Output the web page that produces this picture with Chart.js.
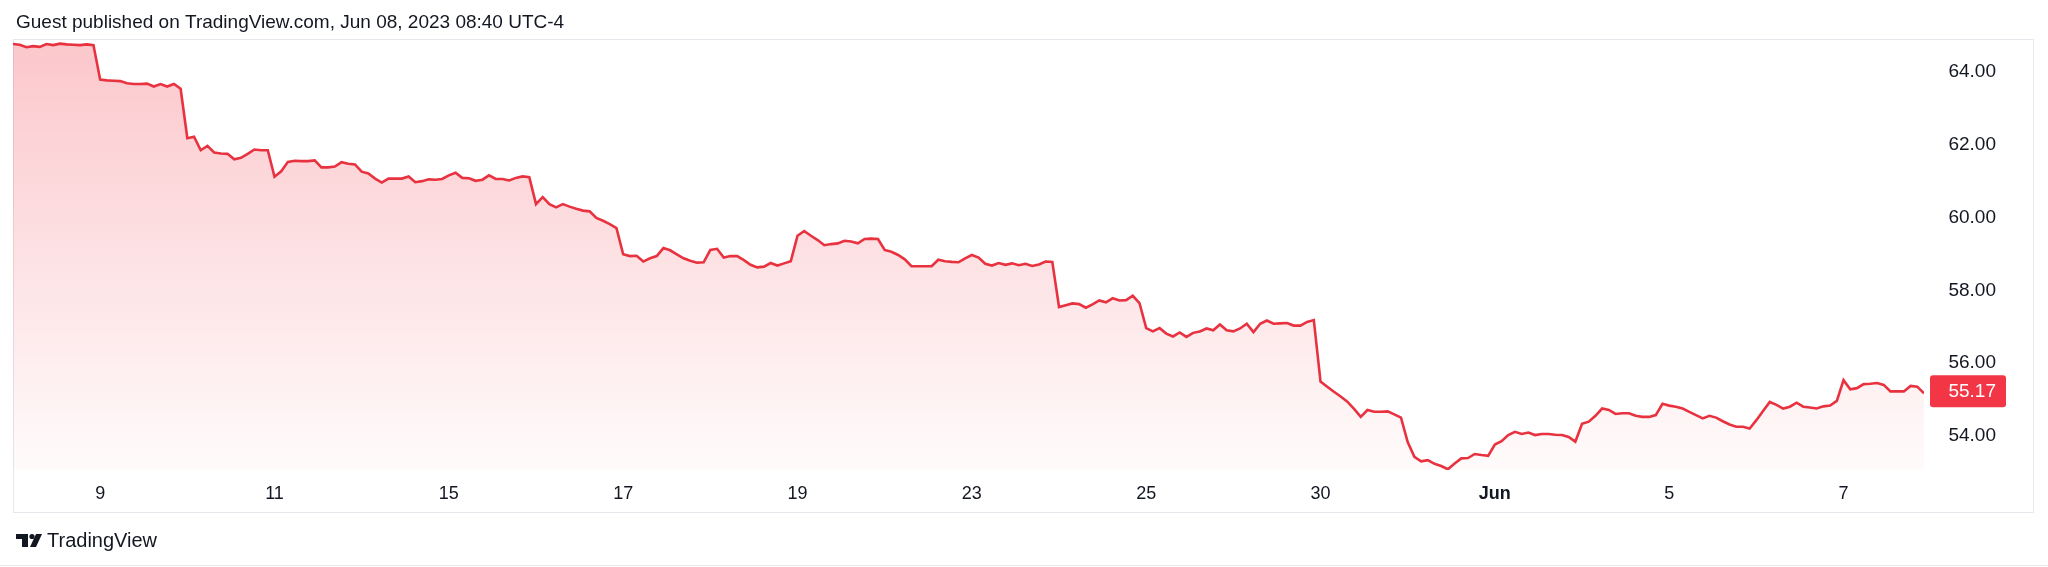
<!DOCTYPE html>
<html>
<head>
<meta charset="utf-8">
<script src="https://cdn.jsdelivr.net/npm/chart.js@4.4.0/dist/chart.umd.min.js"></script>
<style>
html,body{margin:0;padding:0;background:#ffffff;}
#wrap{width:2048px;height:567px;position:relative;overflow:hidden;}
canvas{display:block;}
</style>
</head>
<body>
<div id="wrap"><canvas id="c" width="2048" height="567"></canvas></div>
<script>
// ---- text ----
const titleText = "Guest published on TradingView.com, Jun 08, 2023 08:40 UTC-4";
const brandText = "TradingView";

// ---- series: 30-minute closes, May 8 – Jun 7 2023 (13 bars per session) ----
const prices = [
  // May 8
  64.77, 64.75, 64.68, 64.71, 64.69, 64.77, 64.74, 64.78, 64.76, 64.75, 64.74, 64.76, 64.74,
  // May 9
  63.79, 63.77, 63.76, 63.75, 63.69, 63.67, 63.67, 63.68, 63.60, 63.67, 63.60, 63.67, 63.54,
  // May 10
  62.18, 62.22, 61.85, 61.97, 61.79, 61.76, 61.75, 61.60, 61.64, 61.75, 61.87, 61.85, 61.85,
  // May 11
  61.12, 61.27, 61.53, 61.56, 61.55, 61.55, 61.57, 61.38, 61.38, 61.40, 61.52, 61.48, 61.46,
  // May 12
  61.26, 61.21, 61.07, 60.96, 61.07, 61.07, 61.07, 61.13, 60.97, 61.00, 61.05, 61.04, 61.06,
  // May 15
  61.16, 61.23, 61.09, 61.08, 61.01, 61.04, 61.16, 61.06, 61.06, 61.02, 61.09, 61.13, 61.11,
  // May 16
  60.37, 60.56, 60.37, 60.28, 60.37, 60.30, 60.24, 60.19, 60.17, 59.99, 59.91, 59.82, 59.71,
  // May 17
  58.99, 58.94, 58.95, 58.79, 58.88, 58.94, 59.16, 59.10, 58.99, 58.88, 58.81, 58.76, 58.77,
  // May 18
  59.11, 59.14, 58.90, 58.94, 58.94, 58.83, 58.70, 58.63, 58.65, 58.75, 58.68, 58.74, 58.80,
  // May 19
  59.50, 59.63, 59.50, 59.38, 59.24, 59.27, 59.29, 59.36, 59.34, 59.29, 59.41, 59.42, 59.41,
  // May 22
  59.11, 59.06, 58.97, 58.85, 58.66, 58.66, 58.66, 58.66, 58.84, 58.80, 58.78, 58.77, 58.88,
  // May 23
  58.97, 58.90, 58.73, 58.68, 58.75, 58.70, 58.74, 58.69, 58.73, 58.67, 58.71, 58.79, 58.78,
  // May 24
  57.54, 57.59, 57.64, 57.62, 57.52, 57.61, 57.72, 57.67, 57.78, 57.72, 57.73, 57.85, 57.65,
  // May 25
  56.96, 56.87, 56.96, 56.81, 56.73, 56.84, 56.72, 56.83, 56.87, 56.95, 56.90, 57.06, 56.90,
  // May 26
  56.87, 56.95, 57.08, 56.85, 57.08, 57.17, 57.08, 57.09, 57.10, 57.03, 57.03, 57.13, 57.18,
  // May 30
  55.49, 55.35, 55.21, 55.08, 54.94, 54.74, 54.52, 54.71, 54.66, 54.66, 54.67, 54.59, 54.50,
  // May 31
  53.83, 53.42, 53.30, 53.33, 53.23, 53.17, 53.08, 53.24, 53.38, 53.39, 53.50, 53.47, 53.45,
  // Jun 1
  53.76, 53.85, 54.02, 54.11, 54.05, 54.09, 54.02, 54.05, 54.05, 54.03, 54.02, 53.97, 53.84,
  // Jun 2
  54.33, 54.39, 54.55, 54.75, 54.71, 54.60, 54.62, 54.62, 54.55, 54.52, 54.52, 54.57, 54.88,
  // Jun 5
  54.83, 54.80, 54.75, 54.66, 54.57, 54.48, 54.55, 54.50, 54.40, 54.31, 54.25, 54.25, 54.20,
  // Jun 6
  54.43, 54.68, 54.93, 54.85, 54.75, 54.80, 54.91, 54.80, 54.78, 54.75, 54.81, 54.83, 54.96,
  // Jun 7
  55.53, 55.28, 55.31, 55.42, 55.43, 55.45, 55.40, 55.22, 55.22, 55.22, 55.37, 55.35, 55.17
];

// ---- axes ----
const xTickIdx    = [13, 39, 65, 91, 117, 143, 169, 195, 221, 247, 273];
const xTickLabels = ["9", "11", "15", "17", "19", "23", "25", "30", "Jun", "5", "7"];
const yTicks      = [54, 56, 58, 60, 62, 64];
const yRange      = [53.06, 64.88];

const RED = '#f23645';
const LINE = '#e8323f';
const TEXT = '#131722';
const FONT = '"Liberation Sans", Arial, sans-serif';

const points = prices.map((v, i) => ({ x: i, y: v }));

const decor = {
  id: 'decor',
  beforeDraw(chart) {
    const c = chart.ctx;
    c.save();
    c.fillStyle = '#ffffff';
    c.fillRect(0, 0, chart.width, chart.height);
    // title
    c.fillStyle = TEXT;
    c.font = '19px ' + FONT;
    c.textBaseline = 'middle';
    c.textAlign = 'left';
    c.fillText(titleText, 16, 23);
    // panel border
    c.strokeStyle = '#e6e8ee';
    c.lineWidth = 1;
    c.strokeRect(13.5, 39.5, 2020, 473);
    // bottom separator
    c.beginPath(); c.moveTo(0, 565.5); c.lineTo(2048, 565.5); c.stroke();
    // logo
    c.fillStyle = TEXT;
    c.fillRect(16, 534, 12, 5);
    c.fillRect(22, 534, 6, 13);
    c.beginPath(); c.arc(32, 536.5, 2.6, 0, Math.PI * 2); c.fill();
    c.beginPath();
    c.moveTo(36, 534); c.lineTo(42, 534); c.lineTo(36, 547); c.lineTo(30, 547);
    c.closePath(); c.fill();
    c.font = '20px ' + FONT;
    c.textBaseline = 'middle';
    c.fillText(brandText, 47, 541);
    c.restore();
  },
  afterDraw(chart) {
    const c = chart.ctx;
    const ys = chart.scales.y;
    const last = prices[prices.length - 1];
    const py = ys.getPixelForValue(last) - 2;
    c.save();
    c.fillStyle = RED;
    const x0 = 1930, w = 76, h = 32;
    c.beginPath();
    if (c.roundRect) c.roundRect(x0, py - h / 2, w, h, 3); else c.rect(x0, py - h / 2, w, h);
    c.fill();
    c.fillStyle = '#ffffff';
    c.font = '19px ' + FONT;
    c.textAlign = 'right';
    c.textBaseline = 'middle';
    c.fillText(last.toFixed(2), 1996, py + 1);
    c.restore();
  }
};

new Chart(document.getElementById('c'), {
  type: 'line',
  data: {
    datasets: [{
      data: points,
      borderColor: LINE,
      borderWidth: 2.6,
      pointRadius: 0,
      tension: 0,
      fill: 'start',
      backgroundColor: (ctx) => {
        const a = ctx.chart.chartArea;
        if (!a) return 'rgba(242,54,69,0.15)';
        const g = ctx.chart.ctx.createLinearGradient(0, a.top, 0, a.bottom);
        g.addColorStop(0, 'rgba(242,54,69,0.28)');
        g.addColorStop(1, 'rgba(242,54,69,0.02)');
        return g;
      }
    }]
  },
  options: {
    responsive: false,
    devicePixelRatio: 1,
    animation: false,
    layout: { padding: { left: 13, right: 52, top: 40, bottom: 0 } },
    plugins: { legend: { display: false }, tooltip: { enabled: false } },
    scales: {
      x: {
        type: 'linear',
        bounds: 'data',
        min: 0,
        max: prices.length - 1,
        grid: { display: false, drawTicks: false },
        border: { display: false },
        afterFit(s) { s.height = 97; },
        afterBuildTicks(s) { s.ticks = xTickIdx.map(v => ({ value: v })); },
        ticks: {
          autoSkip: false,
          maxRotation: 0,
          padding: 13,
          color: TEXT,
          font: (ctx) => ({ family: FONT, size: 18, weight: (ctx.tick && xTickLabels[xTickIdx.indexOf(ctx.tick.value)] === 'Jun') ? 'bold' : 'normal' }),
          callback: (v) => { const k = xTickIdx.indexOf(v); return k >= 0 ? xTickLabels[k] : ''; }
        }
      },
      y: {
        position: 'right',
        bounds: 'data',
        min: yRange[0],
        max: yRange[1],
        grid: { display: false, drawTicks: false },
        border: { display: false },
        afterFit(s) { s.width = 72; },
        afterBuildTicks(s) { s.ticks = yTicks.map(v => ({ value: v })); },
        ticks: {
          crossAlign: 'far',
          padding: 0,
          color: TEXT,
          font: { family: FONT, size: 19 },
          callback: (v) => Number(v).toFixed(2)
        }
      }
    }
  },
  plugins: [decor]
});
</script>
</body>
</html>
